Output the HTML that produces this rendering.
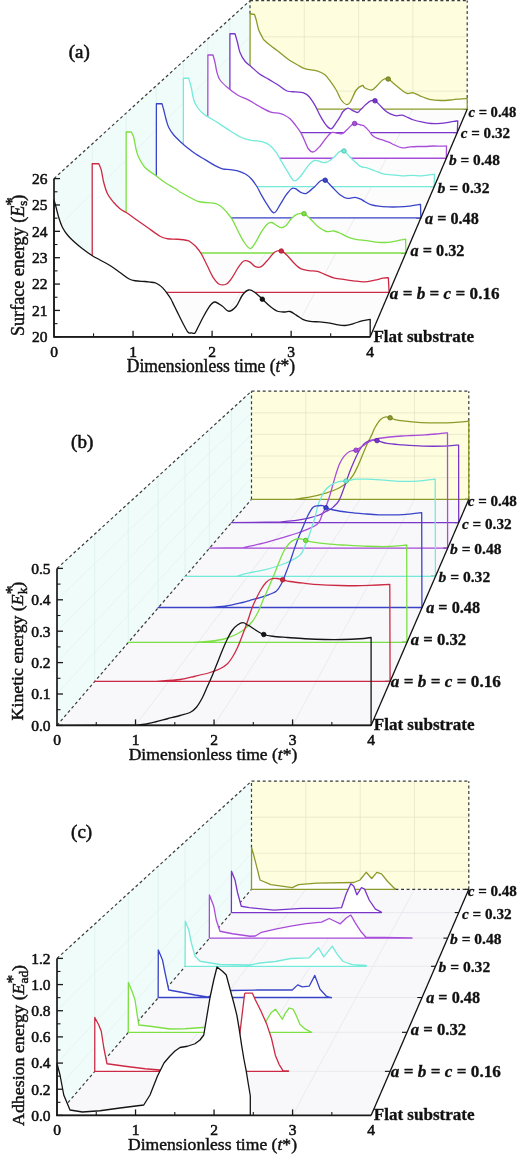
<!DOCTYPE html>
<html><head><meta charset="utf-8"><style>
html,body{margin:0;padding:0;background:#fff;}
svg{display:block;}
.tl{font-family:"Liberation Serif",serif;font-size:15.5px;fill:#111;stroke:#111;stroke-width:0.55px;}
.ti{font-family:"Liberation Serif",serif;font-size:18.5px;fill:#111;stroke:#111;stroke-width:0.45px;}
.pl{font-family:"Liberation Serif",serif;font-size:19px;fill:#111;stroke:#111;stroke-width:0.55px;}
.lb{font-family:"Liberation Serif",serif;font-size:14.5px;font-weight:bold;fill:#111;stroke:#111;stroke-width:0.3px;}
</style></head><body>
<svg width="520" height="1156" viewBox="0 0 520 1156">
<rect width="520" height="1156" fill="#fff"/>
<g>
<polygon points="54,336.8 54,178.6 250,0.6 250,109.2" fill="#f0fcfa"/>
<polygon points="250,109.2 250,0.6 467.2,0.6 467.2,109.2" fill="#fefedf"/>
<polygon points="54,336.8 370.2,336.8 467.2,109.2 250,109.2" fill="#fcfcfd"/>
<line x1="92.27" y1="292.34" x2="92.27" y2="143.83" stroke="#d8eeec" stroke-width="0.7"/>
<line x1="126.13" y1="253.01" x2="126.13" y2="113.07" stroke="#d8eeec" stroke-width="0.7"/>
<line x1="156.3" y1="217.97" x2="156.3" y2="85.66" stroke="#d8eeec" stroke-width="0.7"/>
<line x1="183.36" y1="186.55" x2="183.36" y2="61.1" stroke="#d8eeec" stroke-width="0.7"/>
<line x1="207.75" y1="158.23" x2="207.75" y2="38.95" stroke="#d8eeec" stroke-width="0.7"/>
<line x1="229.87" y1="132.57" x2="229.87" y2="18.87" stroke="#d8eeec" stroke-width="0.7"/>
<line x1="54" y1="310.43" x2="250" y2="91.1" stroke="#e0eeee" stroke-width="0.6"/>
<line x1="250" y1="91.1" x2="467.2" y2="91.1" stroke="#e2e2c6" stroke-width="0.7"/>
<line x1="54" y1="231.33" x2="250" y2="36.8" stroke="#e0eeee" stroke-width="0.6"/>
<line x1="250" y1="36.8" x2="467.2" y2="36.8" stroke="#e2e2c6" stroke-width="0.7"/>
<line x1="304.3" y1="109.2" x2="304.3" y2="0.6" stroke="#e2e2c6" stroke-width="0.7"/>
<line x1="133.05" y1="336.8" x2="304.3" y2="109.2" stroke="#e0e0e8" stroke-width="0.6"/>
<line x1="358.6" y1="109.2" x2="358.6" y2="0.6" stroke="#e2e2c6" stroke-width="0.7"/>
<line x1="212.1" y1="336.8" x2="358.6" y2="109.2" stroke="#e0e0e8" stroke-width="0.6"/>
<line x1="412.9" y1="109.2" x2="412.9" y2="0.6" stroke="#e2e2c6" stroke-width="0.7"/>
<line x1="291.15" y1="336.8" x2="412.9" y2="109.2" stroke="#e0e0e8" stroke-width="0.6"/>
<line x1="92.27" y1="292.34" x2="389.14" y2="292.34" stroke="#e0e0e8" stroke-width="0.6"/>
<line x1="126.13" y1="253.01" x2="405.9" y2="253.01" stroke="#e0e0e8" stroke-width="0.6"/>
<line x1="156.3" y1="217.97" x2="420.83" y2="217.97" stroke="#e0e0e8" stroke-width="0.6"/>
<line x1="183.36" y1="186.55" x2="434.22" y2="186.55" stroke="#e0e0e8" stroke-width="0.6"/>
<line x1="207.75" y1="158.23" x2="446.29" y2="158.23" stroke="#e0e0e8" stroke-width="0.6"/>
<line x1="229.87" y1="132.57" x2="457.24" y2="132.57" stroke="#e0e0e8" stroke-width="0.6"/>
<line x1="54" y1="178.6" x2="250" y2="0.6" stroke="#3a3a3a" stroke-width="1.2" stroke-dasharray="3,2.6"/>
<line x1="250" y1="0.6" x2="467.2" y2="0.6" stroke="#3a3a3a" stroke-width="1.2" stroke-dasharray="3,2.6"/>
<line x1="250" y1="13.75" x2="250" y2="0.6" stroke="#3a3a3a" stroke-width="1.2" stroke-dasharray="3,2.6"/>
<line x1="467.2" y1="109.2" x2="467.2" y2="0.6" stroke="#3a3a3a" stroke-width="1.2" stroke-dasharray="3,2.6"/>
<line x1="54" y1="336.8" x2="250" y2="109.2" stroke="#3a3a3a" stroke-width="1.2" stroke-dasharray="3,2.6"/>
<line x1="389.14" y1="292.34" x2="383.94" y2="292.34" stroke="#111" stroke-width="1.1"/>
<line x1="405.9" y1="253.01" x2="401" y2="253.01" stroke="#111" stroke-width="1.1"/>
<line x1="420.83" y1="217.97" x2="416.2" y2="217.97" stroke="#111" stroke-width="1.1"/>
<line x1="434.22" y1="186.55" x2="429.83" y2="186.55" stroke="#111" stroke-width="1.1"/>
<line x1="446.29" y1="158.23" x2="442.12" y2="158.23" stroke="#111" stroke-width="1.1"/>
<line x1="457.24" y1="132.57" x2="453.26" y2="132.57" stroke="#111" stroke-width="1.1"/>
<line x1="467.2" y1="109.2" x2="463.4" y2="109.2" stroke="#111" stroke-width="1.1"/>
<path d="M250,109.2 L250.1,13.75 L254.5,14.5 C254.79,15.42 255.54,17.42 256.25,20 C256.96,22.58 257.71,27.08 258.75,30 C259.79,32.92 261.62,35.83 262.5,37.5 C263.38,39.17 262.62,38.62 264,40 C265.38,41.38 268.38,43.88 270.8,45.8 C273.22,47.72 275.62,49.27 278.5,51.5 C281.38,53.73 284.9,56.95 288.1,59.2 C291.3,61.45 294.82,63.4 297.7,65 C300.58,66.6 302.2,67.83 305.4,68.8 C308.6,69.77 313.7,69.83 316.9,70.8 C320.1,71.77 322.35,72.85 324.6,74.6 C326.85,76.35 328.47,78.73 330.4,81.3 C332.33,83.87 334.39,86.88 336.2,90 C338.01,93.12 339.57,97.58 341.25,100 C342.93,102.42 344.79,104.08 346.25,104.5 C347.71,104.92 348.33,104.92 350,102.5 C351.67,100.08 354.17,92.83 356.25,90 C358.33,87.17 361.11,85.87 362.5,85.5 C363.89,85.13 363.1,87.05 364.6,87.8 C366.1,88.55 369.38,90.38 371.5,90 C373.62,89.62 375.38,87.22 377.3,85.5 C379.22,83.78 381.18,80.78 383,79.7 C384.82,78.62 386.27,78.23 388.2,79 C390.13,79.77 392.37,82.47 394.6,84.3 C396.83,86.13 399.48,88.47 401.6,90 C403.72,91.53 405.38,93.03 407.3,93.5 C409.22,93.97 410.98,92.42 413.1,92.8 C415.22,93.18 417.3,94.72 420,95.8 C422.7,96.88 425.83,98.52 429.3,99.3 C432.77,100.08 436.95,100.42 440.8,100.5 C444.65,100.58 448.93,100.08 452.4,99.8 C455.87,99.52 459.13,99 461.6,98.8 C464.07,98.6 466.27,98.63 467.2,98.6 L467.2,109.2 Z" fill="#ffffff" stroke="#8c9a2a" stroke-width="1.3" stroke-linejoin="round"/>
<path d="M229.87,132.57 L229.9,33.75 L235,33.75 C235.42,35.21 236.67,39.38 237.5,42.5 C238.33,45.62 238.75,49.38 240,52.5 C241.25,55.62 243.08,58.85 245,61.25 C246.92,63.65 249.13,64.83 251.5,66.9 C253.87,68.98 256.32,71.62 259.2,73.7 C262.08,75.78 265.58,77.48 268.8,79.4 C272.02,81.32 275.45,83.27 278.5,85.2 C281.55,87.13 284.22,89.88 287.1,91 C289.98,92.12 293.07,91.58 295.8,91.9 C298.53,92.22 301.27,92.1 303.5,92.9 C305.73,93.7 307.28,94.62 309.2,96.7 C311.12,98.78 313.07,102.03 315,105.4 C316.93,108.77 318.88,113.53 320.8,116.9 C322.72,120.27 324.75,123.62 326.5,125.6 C328.25,127.58 329.68,129.28 331.3,128.8 C332.92,128.32 334.75,124.68 336.2,122.7 C337.65,120.72 338.87,118.77 340,116.9 C341.13,115.03 341.68,112.97 343,111.5 C344.32,110.03 346.28,108.25 347.9,108.1 C349.52,107.95 351.1,109.87 352.7,110.6 C354.3,111.33 356.28,112.53 357.5,112.5 C358.72,112.47 358.62,111.72 360,110.4 C361.38,109.08 364.03,106.2 365.8,104.6 C367.57,103 369.07,101.43 370.6,100.8 C372.13,100.17 373.57,100.17 375,100.8 C376.43,101.43 377.53,103 379.2,104.6 C380.87,106.2 383.07,108.8 385,110.4 C386.93,112 388.88,113.3 390.8,114.2 C392.72,115.1 394.58,115.63 396.5,115.8 C398.42,115.97 400.37,114.88 402.3,115.2 C404.23,115.52 406.18,116.9 408.1,117.7 C410.02,118.5 411.57,119.3 413.8,120 C416.03,120.7 418.6,121.32 421.5,121.9 C424.4,122.48 427.98,123.27 431.2,123.5 C434.42,123.73 437.92,123.5 440.8,123.3 C443.68,123.1 445.93,122.68 448.5,122.3 C451.07,121.92 454.65,121.25 456.2,121 C457.75,120.75 457.53,120.83 457.8,120.8 L457.24,132.57 Z" fill="#ffffff" stroke="#7a36c8" stroke-width="1.3" stroke-linejoin="round"/>
<path d="M207.75,158.23 L207.9,55 L213,55 C213.33,56.25 214.33,59.58 215,62.5 C215.67,65.42 216.17,69.58 217,72.5 C217.83,75.42 218.25,77.5 220,80 C221.75,82.5 224.58,85 227.5,87.5 C230.42,90 234.13,92.98 237.5,95 C240.87,97.02 244.08,97.72 247.7,99.6 C251.32,101.48 255.35,104.22 259.2,106.3 C263.05,108.38 267.58,110.97 270.8,112.1 C274.02,113.23 276.27,112.62 278.5,113.1 C280.73,113.58 282.28,114.05 284.2,115 C286.12,115.95 288.07,117.03 290,118.8 C291.93,120.57 294.03,123.35 295.8,125.6 C297.57,127.85 299.32,130.22 300.6,132.3 C301.88,134.38 302.18,135.32 303.5,138.1 C304.82,140.88 306.87,146.7 308.5,149 C310.13,151.3 311.38,152.37 313.3,151.9 C315.22,151.43 317.92,148.43 320,146.2 C322.08,143.97 323.88,140.75 325.8,138.5 C327.72,136.25 329.75,133.6 331.5,132.7 C333.25,131.8 334.53,132.93 336.3,133.1 C338.07,133.27 340.33,134.25 342.1,133.7 C343.87,133.15 345.3,131.25 346.9,129.8 C348.5,128.35 350.42,126.05 351.7,125 C352.98,123.95 353.15,123.5 354.6,123.5 C356.05,123.5 358.87,124.62 360.4,125 C361.93,125.38 362.42,124.87 363.8,125.8 C365.18,126.73 367.25,129 368.7,130.6 C370.15,132.2 371.07,134.12 372.5,135.4 C373.93,136.68 375.53,137.5 377.3,138.3 C379.07,139.1 381.18,139.57 383.1,140.2 C385.02,140.83 386.88,141.3 388.8,142.1 C390.72,142.9 392.35,144.03 394.6,145 C396.85,145.97 399.73,147.58 402.3,147.9 C404.87,148.22 407.43,147.13 410,146.9 C412.57,146.67 415.13,146.57 417.7,146.5 C420.27,146.43 422.83,146.58 425.4,146.5 C427.97,146.42 430.53,146.05 433.1,146 C435.67,145.95 438.57,146.2 440.8,146.2 C443.03,146.2 445.55,146.03 446.5,146 L446.29,158.23 Z" fill="#ffffff" stroke="#a84cda" stroke-width="1.3" stroke-linejoin="round"/>
<path d="M183.36,186.55 L183.4,78.25 L188.75,78.25 C189.17,79.79 190.42,83.88 191.25,87.5 C192.08,91.12 192.71,96.67 193.75,100 C194.79,103.33 195.96,105.25 197.5,107.5 C199.04,109.75 201.12,111.87 203,113.5 C204.88,115.13 206.22,115.7 208.8,117.3 C211.38,118.9 214.97,120.85 218.5,123.1 C222.03,125.35 226.17,128.4 230,130.8 C233.83,133.2 237.97,135.9 241.5,137.5 C245.03,139.1 247.98,139.77 251.2,140.4 C254.42,141.03 258.25,140.82 260.8,141.3 C263.35,141.78 264.97,142.6 266.5,143.3 C268.03,144 268.45,144.07 270,145.5 C271.55,146.93 273.88,149.23 275.8,151.9 C277.72,154.57 279.58,158.28 281.5,161.5 C283.42,164.72 285.22,167.98 287.3,171.2 C289.38,174.42 291.75,180 294,180.8 C296.25,181.6 298.38,178.57 300.8,176 C303.22,173.43 306.27,167.97 308.5,165.4 C310.73,162.83 312.28,161.25 314.2,160.6 C316.12,159.95 318.07,161.18 320,161.5 C321.93,161.82 323.55,163.13 325.8,162.5 C328.05,161.87 331.27,159.47 333.5,157.7 C335.73,155.93 337.45,153.02 339.2,151.9 C340.95,150.78 342.4,150.35 344,151 C345.6,151.65 347.03,154.05 348.8,155.8 C350.57,157.55 352.67,159.75 354.6,161.5 C356.53,163.25 358.22,165.2 360.4,166.3 C362.58,167.4 365.2,167.32 367.7,168.1 C370.2,168.88 372.83,170.05 375.4,171 C377.97,171.95 380.22,173.17 383.1,173.8 C385.98,174.43 389.5,174.47 392.7,174.8 C395.9,175.13 399.1,175.7 402.3,175.8 C405.5,175.9 408.7,175.4 411.9,175.4 C415.1,175.4 418.62,175.9 421.5,175.8 C424.38,175.7 427.05,175.07 429.2,174.8 C431.35,174.53 433.53,174.3 434.4,174.2 L434.22,186.55 Z" fill="#ffffff" stroke="#74eada" stroke-width="1.3" stroke-linejoin="round"/>
<path d="M156.3,217.97 L156.4,103.75 L162,103.75 C162.29,104.79 163.04,107.29 163.75,110 C164.46,112.71 165.42,117.08 166.25,120 C167.08,122.92 167.5,125 168.75,127.5 C170,130 171.67,132.5 173.75,135 C175.83,137.5 178.93,140.32 181.25,142.5 C183.57,144.68 185.34,146.22 187.7,148.1 C190.06,149.98 192.52,151.88 195.4,153.8 C198.28,155.72 201.8,157.67 205,159.6 C208.2,161.53 211.72,163.87 214.6,165.4 C217.48,166.93 219.73,168.1 222.3,168.8 C224.87,169.5 227.43,169.27 230,169.6 C232.57,169.93 235.13,170.07 237.7,170.8 C240.27,171.53 243.15,172.67 245.4,174 C247.65,175.33 249.28,176.72 251.2,178.8 C253.12,180.88 255.23,183.87 256.9,186.5 C258.57,189.13 259.53,191.65 261.2,194.6 C262.87,197.55 264.77,201.15 266.9,204.2 C269.03,207.25 271.75,212.9 274,212.9 C276.25,212.9 278.43,207.12 280.4,204.2 C282.37,201.28 283.95,197.98 285.8,195.4 C287.65,192.82 289.9,189.82 291.5,188.7 C293.1,187.58 293.85,188.1 295.4,188.7 C296.95,189.3 298.95,191.53 300.8,192.3 C302.65,193.07 304.2,194.23 306.5,193.3 C308.8,192.37 312.28,188.75 314.6,186.7 C316.92,184.65 318.63,182.08 320.4,181 C322.17,179.92 323.28,179.25 325.2,180.2 C327.12,181.15 329.5,184.33 331.9,186.7 C334.3,189.07 337.03,192.47 339.6,194.4 C342.17,196.33 344.73,197.82 347.3,198.3 C349.87,198.78 352.75,197.15 355,197.3 C357.25,197.45 359.2,198.5 360.8,199.2 C362.4,199.9 362.93,200.6 364.6,201.5 C366.27,202.4 368.48,203.82 370.8,204.6 C373.12,205.38 375.68,205.82 378.5,206.2 C381.32,206.58 384.37,206.78 387.7,206.9 C391.03,207.02 394.92,207.02 398.5,206.9 C402.08,206.78 406.38,206.5 409.2,206.2 C412.02,205.9 413.52,205.42 415.4,205.1 C417.28,204.78 419.65,204.43 420.5,204.3 L420.83,217.97 Z" fill="#ffffff" stroke="#3a44c8" stroke-width="1.3" stroke-linejoin="round"/>
<path d="M126.13,253.01 L126.2,132 L131.25,132 C131.67,132.92 132.92,134.5 133.75,137.5 C134.58,140.5 135.42,146.67 136.25,150 C137.08,153.33 137.29,154.58 138.75,157.5 C140.21,160.42 142.29,164.58 145,167.5 C147.71,170.42 151.67,172.5 155,175 C158.33,177.5 161.25,180 165,182.5 C168.75,185 175,188.42 177.5,190 C180,191.58 177.92,190.75 180,192 C182.08,193.25 187.05,195.95 190,197.5 C192.95,199.05 194.82,200.43 197.7,201.3 C200.58,202.17 204.42,202.37 207.3,202.7 C210.18,203.03 212.75,202.72 215,203.3 C217.25,203.88 218.88,204.77 220.8,206.2 C222.72,207.63 224.58,209.67 226.5,211.9 C228.42,214.13 230.37,216.38 232.3,219.6 C234.23,222.82 236.18,227.52 238.1,231.2 C240.02,234.88 241.82,238.82 243.8,241.7 C245.78,244.58 248.07,248.33 250,248.5 C251.93,248.67 253.53,245.43 255.4,242.7 C257.27,239.97 259.28,235.15 261.2,232.1 C263.12,229.05 265.15,226 266.9,224.4 C268.65,222.8 270.1,222.33 271.7,222.5 C273.3,222.67 274.9,224.53 276.5,225.4 C278.1,226.27 279.68,227.7 281.3,227.7 C282.92,227.7 284.5,226.93 286.2,225.4 C287.9,223.87 289.65,220.37 291.5,218.5 C293.35,216.63 295.22,215 297.3,214.2 C299.38,213.4 301.75,212.83 304,213.7 C306.25,214.57 308.38,217.17 310.8,219.4 C313.22,221.63 315.93,225.08 318.5,227.1 C321.07,229.12 323.65,230.85 326.2,231.5 C328.75,232.15 331.25,230.62 333.8,231 C336.35,231.38 338.93,232.68 341.5,233.8 C344.07,234.92 346.63,236.73 349.2,237.7 C351.77,238.67 354.02,239.12 356.9,239.6 C359.78,240.08 362.9,240.15 366.5,240.6 C370.1,241.05 374.97,242.02 378.5,242.3 C382.03,242.58 384.63,242.55 387.7,242.3 C390.77,242.05 393.92,241.32 396.9,240.8 C399.88,240.28 404.15,239.47 405.6,239.2 L405.9,253.01 Z" fill="#ffffff" stroke="#7ce044" stroke-width="1.3" stroke-linejoin="round"/>
<path d="M92.27,292.34 L92.2,163.75 L98.75,163.75 C99.17,164.79 100.42,166.88 101.25,170 C102.08,173.12 102.71,178.54 103.75,182.5 C104.79,186.46 105.83,190.42 107.5,193.75 C109.17,197.08 111.67,200 113.75,202.5 C115.83,205 117.92,207.08 120,208.75 C122.08,210.42 123.75,210.83 126.25,212.5 C128.75,214.17 131.46,216.25 135,218.75 C138.54,221.25 143.33,224.58 147.5,227.5 C151.67,230.42 156.67,234.38 160,236.25 C163.33,238.12 164.58,238.25 167.5,238.75 C170.42,239.25 174.17,238.96 177.5,239.25 C180.83,239.54 185.42,240.09 187.5,240.5 C189.58,240.91 188.62,240.7 190,241.7 C191.38,242.7 193.88,244.42 195.8,246.5 C197.72,248.58 199.58,250.98 201.5,254.2 C203.42,257.42 205.37,261.95 207.3,265.8 C209.23,269.65 211.18,274.27 213.1,277.3 C215.02,280.33 216.57,282.88 218.8,284 C221.03,285.12 224.25,285.12 226.5,284 C228.75,282.88 230.37,280.02 232.3,277.3 C234.23,274.58 236.18,270.42 238.1,267.7 C240.02,264.98 241.88,261.97 243.8,261 C245.72,260.03 247.67,260.95 249.6,261.9 C251.53,262.85 253.47,265.9 255.4,266.7 C257.33,267.5 259.28,267.65 261.2,266.7 C263.12,265.75 264.67,263.4 266.9,261 C269.13,258.6 272.2,253.97 274.6,252.3 C277,250.63 279.12,250.38 281.3,251 C283.48,251.62 285.55,253.95 287.7,256 C289.85,258.05 292.05,261.2 294.2,263.3 C296.35,265.4 298.13,267.37 300.6,268.6 C303.07,269.83 306.18,270.25 309,270.7 C311.82,271.15 314.67,270.6 317.5,271.3 C320.33,272 323.18,273.77 326,274.9 C328.82,276.03 331.23,277.32 334.4,278.1 C337.57,278.88 341.82,279.15 345,279.6 C348.18,280.05 350.33,280.42 353.5,280.8 C356.67,281.18 360.48,282 364,281.9 C367.52,281.8 371.43,280.83 374.6,280.2 C377.77,279.57 380.72,278.52 383,278.1 C385.28,277.68 387.42,277.77 388.3,277.7 L389.14,292.34 Z" fill="#ffffff" stroke="#cc2a44" stroke-width="1.3" stroke-linejoin="round"/>
<path d="M54,336.8 L54,200 L55.5,205 C56.04,207.08 57.58,213.75 58.75,217.5 C59.92,221.25 61.04,224.58 62.5,227.5 C63.96,230.42 65.42,232.5 67.5,235 C69.58,237.5 72.5,240.21 75,242.5 C77.5,244.79 79.67,246.58 82.5,248.75 C85.33,250.92 89.08,253.62 92,255.5 C94.92,257.38 97,258.33 100,260 C103,261.67 106.67,263.42 110,265.5 C113.33,267.58 116.88,270.29 120,272.5 C123.12,274.71 126.25,277.38 128.75,278.75 C131.25,280.12 132.29,280.29 135,280.75 C137.71,281.21 142.5,281.27 145,281.5 C147.5,281.73 148.4,281.9 150,282.1 C151.6,282.3 153.07,282.22 154.6,282.7 C156.13,283.18 157.85,284.13 159.2,285 C160.55,285.87 161.35,286.47 162.7,287.9 C164.05,289.33 165.95,291.78 167.3,293.6 C168.65,295.42 169.65,296.77 170.8,298.8 C171.95,300.83 172.87,303.1 174.2,305.8 C175.53,308.5 177.27,311.93 178.8,315 C180.33,318.07 181.85,321.32 183.4,324.2 C184.95,327.08 186.75,330.85 188.1,332.3 C189.45,333.75 190.35,332.8 191.5,332.9 C192.65,333 193.85,333.97 195,332.9 C196.15,331.83 197.05,329.1 198.4,326.5 C199.75,323.9 201.55,320.18 203.1,317.3 C204.65,314.42 206.38,311.33 207.7,309.2 C209.02,307.07 209.78,305.7 211,304.5 C212.22,303.3 213.08,301.71 215,302 C216.92,302.29 220.21,304.71 222.5,306.25 C224.79,307.79 226.46,311.25 228.75,311.25 C231.04,311.25 233.96,308.96 236.25,306.25 C238.54,303.54 240.42,297.71 242.5,295 C244.58,292.29 246.67,290.42 248.75,290 C250.83,289.58 252.71,290.96 255,292.5 C257.29,294.04 260,296.96 262.5,299.25 C265,301.54 267.5,304.25 270,306.25 C272.5,308.25 275,310.29 277.5,311.25 C280,312.21 282.92,311.96 285,312 C287.08,312.04 288.12,310.98 290,311.5 C291.88,312.02 294.18,313.8 296.3,315.1 C298.42,316.4 300.4,318.25 302.7,319.3 C305,320.35 307.28,320.97 310.1,321.4 C312.92,321.83 316.6,321.65 319.6,321.9 C322.6,322.15 325.28,322.45 328.1,322.9 C330.92,323.35 333.68,324.17 336.5,324.6 C339.32,325.03 342.17,325.67 345,325.5 C347.83,325.33 350.68,324.38 353.5,323.6 C356.32,322.82 359.12,321.52 361.9,320.8 C364.68,320.08 368.82,319.55 370.2,319.3 L370.2,336.8 Z" fill="#ffffff" stroke="#141414" stroke-width="1.3" stroke-linejoin="round"/>
<circle cx="388.2" cy="79" r="2.3" fill="#8c9a2a" stroke="#5a6a10" stroke-width="0.7"/>
<circle cx="375" cy="100.8" r="2.3" fill="#7a36c8" stroke="#4a1a98" stroke-width="0.7"/>
<circle cx="354.6" cy="123.5" r="2.3" fill="#a84cda" stroke="#7a2aa8" stroke-width="0.7"/>
<circle cx="344" cy="151" r="2.3" fill="#74eada" stroke="#40b8a8" stroke-width="0.7"/>
<circle cx="325.2" cy="180.2" r="2.3" fill="#3a44c8" stroke="#1a2298" stroke-width="0.7"/>
<circle cx="304" cy="213.7" r="2.3" fill="#7ce044" stroke="#50b020" stroke-width="0.7"/>
<circle cx="281.3" cy="251" r="2.3" fill="#cc2a44" stroke="#a01020" stroke-width="0.7"/>
<circle cx="262.3" cy="299.2" r="2.3" fill="#141414" stroke="#000" stroke-width="0.7"/>
<line x1="370.2" y1="336.8" x2="467.2" y2="109.2" stroke="#111" stroke-width="1.3"/>
<path d="M54,178.6 L54,336.8 L370.2,336.8" fill="none" stroke="#1a1a1a" stroke-width="1.7"/>
<line x1="54" y1="336.8" x2="60" y2="336.8" stroke="#1a1a1a" stroke-width="1.3"/>
<text x="47.5" y="342.1" class="tl" text-anchor="end">20</text>
<line x1="54" y1="310.43" x2="60" y2="310.43" stroke="#1a1a1a" stroke-width="1.3"/>
<text x="47.5" y="315.73" class="tl" text-anchor="end">21</text>
<line x1="54" y1="284.07" x2="60" y2="284.07" stroke="#1a1a1a" stroke-width="1.3"/>
<text x="47.5" y="289.37" class="tl" text-anchor="end">22</text>
<line x1="54" y1="257.7" x2="60" y2="257.7" stroke="#1a1a1a" stroke-width="1.3"/>
<text x="47.5" y="263" class="tl" text-anchor="end">23</text>
<line x1="54" y1="231.33" x2="60" y2="231.33" stroke="#1a1a1a" stroke-width="1.3"/>
<text x="47.5" y="236.63" class="tl" text-anchor="end">24</text>
<line x1="54" y1="204.97" x2="60" y2="204.97" stroke="#1a1a1a" stroke-width="1.3"/>
<text x="47.5" y="210.27" class="tl" text-anchor="end">25</text>
<line x1="54" y1="178.6" x2="60" y2="178.6" stroke="#1a1a1a" stroke-width="1.3"/>
<text x="47.5" y="183.9" class="tl" text-anchor="end">26</text>
<line x1="54" y1="323.62" x2="57.5" y2="323.62" stroke="#1a1a1a" stroke-width="1.1"/>
<line x1="54" y1="297.25" x2="57.5" y2="297.25" stroke="#1a1a1a" stroke-width="1.1"/>
<line x1="54" y1="270.88" x2="57.5" y2="270.88" stroke="#1a1a1a" stroke-width="1.1"/>
<line x1="54" y1="244.52" x2="57.5" y2="244.52" stroke="#1a1a1a" stroke-width="1.1"/>
<line x1="54" y1="218.15" x2="57.5" y2="218.15" stroke="#1a1a1a" stroke-width="1.1"/>
<line x1="54" y1="191.78" x2="57.5" y2="191.78" stroke="#1a1a1a" stroke-width="1.1"/>
<text x="54" y="356.6" class="tl" text-anchor="middle">0</text>
<line x1="133.05" y1="336.8" x2="133.05" y2="330.8" stroke="#1a1a1a" stroke-width="1.3"/>
<text x="133.05" y="356.6" class="tl" text-anchor="middle">1</text>
<line x1="212.1" y1="336.8" x2="212.1" y2="330.8" stroke="#1a1a1a" stroke-width="1.3"/>
<text x="212.1" y="356.6" class="tl" text-anchor="middle">2</text>
<line x1="291.15" y1="336.8" x2="291.15" y2="330.8" stroke="#1a1a1a" stroke-width="1.3"/>
<text x="291.15" y="356.6" class="tl" text-anchor="middle">3</text>
<text x="370.2" y="356.6" class="tl" text-anchor="middle">4</text>
<line x1="93.53" y1="336.8" x2="93.53" y2="333.3" stroke="#1a1a1a" stroke-width="1.1"/>
<line x1="172.57" y1="336.8" x2="172.57" y2="333.3" stroke="#1a1a1a" stroke-width="1.1"/>
<line x1="251.62" y1="336.8" x2="251.62" y2="333.3" stroke="#1a1a1a" stroke-width="1.1"/>
<line x1="330.68" y1="336.8" x2="330.68" y2="333.3" stroke="#1a1a1a" stroke-width="1.1"/>
<text x="373.4" y="341.6" class="lb" style="font-size:16.3px" textLength="100.6" lengthAdjust="spacingAndGlyphs">Flat substrate</text>
<text x="389.8" y="299" class="lb" style="font-size:16.3px" textLength="109.8" lengthAdjust="spacingAndGlyphs"><tspan font-style="italic">a</tspan> = <tspan font-style="italic">b</tspan> = <tspan font-style="italic">c</tspan> = 0.16</text>
<text x="410.5" y="256.25" class="lb" style="font-size:16px" textLength="54" lengthAdjust="spacingAndGlyphs"><tspan font-style="italic">a</tspan> = 0.32</text>
<text x="425" y="223.75" class="lb" style="font-size:16px" textLength="53.75" lengthAdjust="spacingAndGlyphs"><tspan font-style="italic">a</tspan> = 0.48</text>
<text x="437.5" y="192.5" class="lb" style="font-size:15.6px" textLength="52" lengthAdjust="spacingAndGlyphs"><tspan font-style="italic">b</tspan> = 0.32</text>
<text x="449" y="165.4" class="lb" style="font-size:15.3px" textLength="51" lengthAdjust="spacingAndGlyphs"><tspan font-style="italic">b</tspan> = 0.48</text>
<text x="460.8" y="137.7" class="lb" style="font-size:15px" textLength="49.2" lengthAdjust="spacingAndGlyphs"><tspan font-style="italic">c</tspan> = 0.32</text>
<text x="468.5" y="117.2" class="lb" style="font-size:14.6px" textLength="47.7" lengthAdjust="spacingAndGlyphs"><tspan font-style="italic">c</tspan> = 0.48</text>
<text x="68.8" y="57.5" class="pl">(a)</text>
<text x="126.8" y="371.5" class="ti" style="font-size:18.5px" textLength="168.2" lengthAdjust="spacingAndGlyphs">Dimensionless time (<tspan font-style="italic">t</tspan>*)</text>
<text transform="translate(23.5,336) rotate(-90)" x="0" y="0" class="ti" style="font-size:18.2px" textLength="141.4" lengthAdjust="spacingAndGlyphs">Surface energy (<tspan font-style="italic">E</tspan><tspan font-size="17" dy="-6.5">*</tspan><tspan font-size="13" dx="-8.5" dy="10">s</tspan><tspan dy="-3.5">)</tspan></text>
</g>
<g>
<polygon points="57,725.4 57,568.4 251.5,391.2 251.5,499.3" fill="#f0fcfa"/>
<polygon points="251.5,499.3 251.5,391.2 468.8,391.2 468.8,499.3" fill="#fefedf"/>
<polygon points="57,725.4 371.1,725.4 468.8,499.3 251.5,499.3" fill="#f8f8fb"/>
<line x1="94.76" y1="681.34" x2="94.76" y2="533.87" stroke="#d8eeec" stroke-width="0.7"/>
<line x1="128.26" y1="642.32" x2="128.26" y2="503.28" stroke="#d8eeec" stroke-width="0.7"/>
<line x1="158.17" y1="607.52" x2="158.17" y2="476.01" stroke="#d8eeec" stroke-width="0.7"/>
<line x1="185.06" y1="576.3" x2="185.06" y2="451.54" stroke="#d8eeec" stroke-width="0.7"/>
<line x1="209.34" y1="548.12" x2="209.34" y2="429.46" stroke="#d8eeec" stroke-width="0.7"/>
<line x1="231.39" y1="522.58" x2="231.39" y2="409.44" stroke="#d8eeec" stroke-width="0.7"/>
<line x1="57" y1="694" x2="251.5" y2="477.68" stroke="#e0eeee" stroke-width="0.6"/>
<line x1="251.5" y1="477.68" x2="468.8" y2="477.68" stroke="#e2e2c6" stroke-width="0.7"/>
<line x1="57" y1="662.6" x2="251.5" y2="456.06" stroke="#e0eeee" stroke-width="0.6"/>
<line x1="251.5" y1="456.06" x2="468.8" y2="456.06" stroke="#e2e2c6" stroke-width="0.7"/>
<line x1="57" y1="631.2" x2="251.5" y2="434.44" stroke="#e0eeee" stroke-width="0.6"/>
<line x1="251.5" y1="434.44" x2="468.8" y2="434.44" stroke="#e2e2c6" stroke-width="0.7"/>
<line x1="57" y1="599.8" x2="251.5" y2="412.82" stroke="#e0eeee" stroke-width="0.6"/>
<line x1="251.5" y1="412.82" x2="468.8" y2="412.82" stroke="#e2e2c6" stroke-width="0.7"/>
<line x1="305.82" y1="499.3" x2="305.82" y2="391.2" stroke="#e2e2c6" stroke-width="0.7"/>
<line x1="135.52" y1="725.4" x2="305.82" y2="499.3" stroke="#e0e0e8" stroke-width="0.6"/>
<line x1="360.15" y1="499.3" x2="360.15" y2="391.2" stroke="#e2e2c6" stroke-width="0.7"/>
<line x1="214.05" y1="725.4" x2="360.15" y2="499.3" stroke="#e0e0e8" stroke-width="0.6"/>
<line x1="414.48" y1="499.3" x2="414.48" y2="391.2" stroke="#e2e2c6" stroke-width="0.7"/>
<line x1="292.58" y1="725.4" x2="414.48" y2="499.3" stroke="#e0e0e8" stroke-width="0.6"/>
<line x1="94.76" y1="681.34" x2="390.07" y2="681.34" stroke="#e0e0e8" stroke-width="0.6"/>
<line x1="128.26" y1="642.32" x2="406.89" y2="642.32" stroke="#e0e0e8" stroke-width="0.6"/>
<line x1="158.17" y1="607.52" x2="421.92" y2="607.52" stroke="#e0e0e8" stroke-width="0.6"/>
<line x1="185.06" y1="576.3" x2="435.42" y2="576.3" stroke="#e0e0e8" stroke-width="0.6"/>
<line x1="209.34" y1="548.12" x2="447.62" y2="548.12" stroke="#e0e0e8" stroke-width="0.6"/>
<line x1="231.39" y1="522.58" x2="458.7" y2="522.58" stroke="#e0e0e8" stroke-width="0.6"/>
<line x1="57" y1="568.4" x2="251.5" y2="391.2" stroke="#3a3a3a" stroke-width="1.2" stroke-dasharray="3,2.6"/>
<line x1="251.5" y1="391.2" x2="468.8" y2="391.2" stroke="#3a3a3a" stroke-width="1.2" stroke-dasharray="3,2.6"/>
<line x1="251.5" y1="499.4" x2="251.5" y2="391.2" stroke="#3a3a3a" stroke-width="1.2" stroke-dasharray="3,2.6"/>
<line x1="468.8" y1="499.3" x2="468.8" y2="391.2" stroke="#3a3a3a" stroke-width="1.2" stroke-dasharray="3,2.6"/>
<line x1="57" y1="725.4" x2="251.5" y2="499.3" stroke="#3a3a3a" stroke-width="1.2" stroke-dasharray="3,2.6"/>
<line x1="390.07" y1="681.34" x2="384.9" y2="681.34" stroke="#111" stroke-width="1.1"/>
<line x1="406.89" y1="642.32" x2="402.02" y2="642.32" stroke="#111" stroke-width="1.1"/>
<line x1="421.92" y1="607.52" x2="417.31" y2="607.52" stroke="#111" stroke-width="1.1"/>
<line x1="435.42" y1="576.3" x2="431.04" y2="576.3" stroke="#111" stroke-width="1.1"/>
<line x1="447.62" y1="548.12" x2="443.45" y2="548.12" stroke="#111" stroke-width="1.1"/>
<line x1="458.7" y1="522.58" x2="454.72" y2="522.58" stroke="#111" stroke-width="1.1"/>
<line x1="468.8" y1="499.3" x2="465" y2="499.3" stroke="#111" stroke-width="1.1"/>
<path d="M251.5,499.3 L251.5,499.4 L295,499.2 C297.57,498.82 305.27,497.92 310.4,496.9 C315.53,495.88 321.18,494.5 325.8,493.1 C330.42,491.7 334.52,490.3 338.1,488.5 C341.68,486.7 344.73,484.62 347.3,482.3 C349.87,479.98 351.7,477.42 353.5,474.6 C355.3,471.78 356.57,468.73 358.1,465.4 C359.63,462.07 361.17,458.2 362.7,454.6 C364.23,451 365.77,447.13 367.3,443.8 C368.83,440.47 370.62,437.32 371.9,434.6 C373.18,431.88 373.55,430.02 375,427.5 C376.45,424.98 378.78,421.27 380.6,419.5 C382.42,417.73 384.32,417.18 385.9,416.9 C387.48,416.62 388.17,417.27 390.1,417.8 C392.03,418.33 393.8,419.43 397.5,420.1 C401.2,420.77 407.02,421.35 412.3,421.8 C417.58,422.25 423.55,422.63 429.2,422.8 C434.85,422.97 441.25,422.9 446.2,422.8 C451.15,422.7 455.13,422.47 458.9,422.2 C462.67,421.93 467.15,421.37 468.8,421.2 L468.8,499.3 Z" fill="none" stroke="#8c9a2a" stroke-width="1.3" stroke-linejoin="round"/>
<path d="M231.39,522.58 L231.4,522.7 L280.8,521.9 C283.37,521.65 291.58,521.03 296.2,520.4 C300.82,519.77 304.67,519 308.5,518.1 C312.33,517.2 316.32,516.1 319.2,515 C322.08,513.9 324,512.42 325.8,511.5 C327.6,510.58 328.72,510.27 330,509.5 C331.28,508.73 332.03,508.35 333.5,506.9 C334.97,505.45 337.27,503.37 338.8,500.8 C340.33,498.23 341.42,494.83 342.7,491.5 C343.98,488.17 345.22,484.38 346.5,480.8 C347.78,477.22 348.98,473.6 350.4,470 C351.82,466.4 353.47,462.53 355,459.2 C356.53,455.87 358.07,452.57 359.6,450 C361.13,447.43 362.67,445.33 364.2,443.8 C365.73,442.27 367.5,441.4 368.8,440.8 C370.1,440.2 370.63,440.23 372,440.2 C373.37,440.17 374.52,440.07 377,440.6 C379.48,441.13 382.78,442.7 386.9,443.4 C391.02,444.1 395.7,444.35 401.7,444.8 C407.7,445.25 415.85,445.88 422.9,446.1 C429.95,446.32 438.37,446.27 444,446.1 C449.63,445.93 454.27,445.28 456.7,445.1 C459.13,444.92 458.28,445.02 458.6,445 L458.7,522.58 Z" fill="none" stroke="#7a36c8" stroke-width="1.3" stroke-linejoin="round"/>
<path d="M209.34,548.12 L209.3,548.2 L243.5,547.7 C244.58,547.45 246.35,547.03 250,546.2 C253.65,545.37 260.27,544.05 265.4,542.7 C270.53,541.35 275.67,539.63 280.8,538.1 C285.93,536.57 291.58,535.05 296.2,533.5 C300.82,531.95 305.17,530.22 308.5,528.8 C311.83,527.38 314.28,526.4 316.2,525 C318.12,523.6 318.98,522.2 320,520.4 C321.02,518.6 321.33,516.45 322.3,514.2 C323.27,511.95 324.58,509.9 325.8,506.9 C327.02,503.9 328.45,499.78 329.6,496.2 C330.75,492.62 331.67,489 332.7,485.4 C333.73,481.8 334.65,478.2 335.8,474.6 C336.95,471 338.2,466.87 339.6,463.8 C341,460.73 342.53,458.25 344.2,456.2 C345.87,454.15 347.67,452.53 349.6,451.5 C351.53,450.47 353.65,450.88 355.8,450 C357.95,449.12 360.13,447.7 362.5,446.25 C364.87,444.8 367.5,442.55 370,441.3 C372.5,440.05 374.17,439.47 377.5,438.75 C380.83,438.03 385.92,437.46 390,437 C394.08,436.54 398.28,436.25 402,436 C405.72,435.75 408.47,435.68 412.3,435.5 C416.13,435.32 420.77,435.18 425,434.9 C429.23,434.62 433.95,434.15 437.7,433.8 C441.45,433.45 445.87,432.97 447.5,432.8 L447.62,548.12 Z" fill="none" stroke="#a84cda" stroke-width="1.3" stroke-linejoin="round"/>
<path d="M185.06,576.3 L185,576.4 L237,576.2 C239.17,575.62 245.27,573.8 250,572.7 C254.73,571.6 260.27,570.88 265.4,569.6 C270.53,568.32 276.18,566.67 280.8,565 C285.42,563.33 289.77,561.4 293.1,559.6 C296.43,557.8 298.88,556.38 300.8,554.2 C302.72,552.02 303.32,549.32 304.6,546.5 C305.88,543.68 307.35,540.37 308.5,537.3 C309.65,534.23 310.48,531.18 311.5,528.1 C312.52,525.02 313.5,522.65 314.6,518.8 C315.7,514.95 317.03,508.47 318.1,505 C319.17,501.53 319.98,500.25 321,498 C322.02,495.75 322.63,493.6 324.2,491.5 C325.77,489.4 328.1,487.02 330.4,485.4 C332.7,483.78 335.4,482.53 338,481.8 C340.6,481.07 342.92,481.43 346,481 C349.08,480.57 352.95,479.5 356.5,479.2 C360.05,478.9 362.23,479 367.3,479.2 C372.37,479.4 380.82,480.03 386.9,480.4 C392.98,480.77 398.15,481.33 403.8,481.4 C409.45,481.47 415.85,481.15 420.8,480.8 C425.75,480.45 431.1,479.55 433.5,479.3 C435.9,479.05 434.92,479.3 435.2,479.3 L435.42,576.3 Z" fill="none" stroke="#74eada" stroke-width="1.3" stroke-linejoin="round"/>
<path d="M158.17,607.52 L158.1,607.6 L205,607.6 C208.33,607.38 218.75,607.1 225,606.25 C231.25,605.4 238.33,603.48 242.5,602.5 C246.67,601.52 246.18,601.52 250,600.4 C253.82,599.28 261.03,597.33 265.4,595.8 C269.77,594.27 273.52,593.25 276.2,591.2 C278.88,589.15 279.97,586.33 281.5,583.5 C283.03,580.67 283.98,577.8 285.4,574.2 C286.82,570.6 288.47,566.25 290,561.9 C291.53,557.55 293.07,552.45 294.6,548.1 C296.13,543.75 297.67,539.65 299.2,535.8 C300.73,531.95 302.25,528.6 303.8,525 C305.35,521.4 306.95,517.15 308.5,514.2 C310.05,511.25 311.57,508.7 313.1,507.3 C314.63,505.9 316.1,506.07 317.7,505.8 C319.3,505.53 321.32,505.37 322.7,505.7 C324.08,506.03 324.2,507.08 326,507.8 C327.8,508.52 329.7,509.25 333.5,510 C337.3,510.75 343.68,511.67 348.8,512.3 C353.92,512.93 359.2,513.38 364.2,513.8 C369.2,514.22 373.15,514.63 378.8,514.8 C384.45,514.97 392.65,514.97 398.1,514.8 C403.55,514.63 407.57,514.15 411.5,513.8 C415.43,513.45 420,512.88 421.7,512.7 L421.92,607.52 Z" fill="none" stroke="#3a44c8" stroke-width="1.3" stroke-linejoin="round"/>
<path d="M128.26,642.32 L128.2,642.3 L192.5,642.3 C195.42,642.12 204.58,641.84 210,641.25 C215.42,640.66 220.42,640 225,638.75 C229.58,637.5 234.17,635.42 237.5,633.75 C240.83,632.08 242.5,630.83 245,628.75 C247.5,626.67 250.25,624.21 252.5,621.25 C254.75,618.29 256.67,614.71 258.5,611 C260.33,607.29 261.92,602.67 263.5,599 C265.08,595.33 266.42,592.62 268,589 C269.58,585.38 271.25,581.55 273,577.3 C274.75,573.05 276.7,567.85 278.5,563.5 C280.3,559.15 282.02,554.53 283.8,551.2 C285.58,547.87 287.4,545.43 289.2,543.5 C291,541.57 292.67,540.38 294.6,539.6 C296.53,538.82 298.95,538.67 300.8,538.8 C302.65,538.93 303.92,539.88 305.7,540.4 C307.48,540.92 307.45,541.27 311.5,541.9 C315.55,542.53 324.83,543.68 330,544.2 C335.17,544.72 336.25,544.66 342.5,545 C348.75,545.34 359.83,546 367.5,546.25 C375.17,546.5 381.97,546.71 388.5,546.5 C395.03,546.29 403.67,545.25 406.7,545 L406.89,642.32 Z" fill="none" stroke="#7ce044" stroke-width="1.3" stroke-linejoin="round"/>
<path d="M94.76,681.34 L94.7,681.3 L157.5,681.25 C161.25,680.96 173.75,680.33 180,679.5 C186.25,678.67 190,677.42 195,676.25 C200,675.08 205.83,673.75 210,672.5 C214.17,671.25 217.08,670.21 220,668.75 C222.92,667.29 225.42,665.71 227.5,663.75 C229.58,661.79 230.83,659.71 232.5,657 C234.17,654.29 235.83,651.17 237.5,647.5 C239.17,643.83 240.83,639.33 242.5,635 C244.17,630.67 245.92,626 247.5,621.5 C249.08,617 250.58,611.75 252,608 C253.42,604.25 254.5,602.08 256,599 C257.5,595.92 259.33,592.25 261,589.5 C262.67,586.75 264.33,584.25 266,582.5 C267.67,580.75 269.17,579.67 271,579 C272.83,578.33 275.07,578.37 277,578.5 C278.93,578.63 280.43,579.3 282.6,579.8 C284.77,580.3 286.47,580.93 290,581.5 C293.53,582.07 298.93,582.67 303.8,583.2 C308.67,583.73 313.17,584.32 319.2,584.7 C325.23,585.08 334.03,585.33 340,585.5 C345.97,585.67 350.13,585.77 355,585.75 C359.87,585.73 363.4,585.62 369.2,585.4 C375,585.17 386.37,584.57 389.8,584.4 L390.07,681.34 Z" fill="none" stroke="#cc2a44" stroke-width="1.3" stroke-linejoin="round"/>
<path d="M57,725.4 L57,725.3 L137.5,725 C138.75,724.88 142.08,724.75 145,724.25 C147.92,723.75 151.25,722.92 155,722 C158.75,721.08 163.33,719.83 167.5,718.75 C171.67,717.67 176.25,716.54 180,715.5 C183.75,714.46 187.29,713.83 190,712.5 C192.71,711.17 194.17,710 196.25,707.5 C198.33,705 200.62,701.04 202.5,697.5 C204.38,693.96 205.83,690 207.5,686.25 C209.17,682.5 210.83,678.96 212.5,675 C214.17,671.04 215.83,666.67 217.5,662.5 C219.17,658.33 220.83,653.96 222.5,650 C224.17,646.04 225.83,642.08 227.5,638.75 C229.17,635.42 230.83,632.29 232.5,630 C234.17,627.71 235.75,626.22 237.5,625 C239.25,623.78 241.33,622.7 243,622.7 C244.67,622.7 246.33,624.41 247.5,625 C248.67,625.59 248.33,625.21 250,626.25 C251.67,627.29 255.21,629.88 257.5,631.25 C259.79,632.62 261.25,633.67 263.75,634.5 C266.25,635.33 268.54,635.75 272.5,636.25 C276.46,636.75 282.08,637.08 287.5,637.5 C292.92,637.92 298.75,638.42 305,638.75 C311.25,639.08 318.75,639.38 325,639.5 C331.25,639.62 336.67,639.62 342.5,639.5 C348.33,639.38 355.23,639.08 360,638.75 C364.77,638.42 369.25,637.71 371.1,637.5 L371.1,725.4 Z" fill="none" stroke="#141414" stroke-width="1.3" stroke-linejoin="round"/>
<circle cx="390.1" cy="417.8" r="2.3" fill="#8c9a2a" stroke="#5a6a10" stroke-width="0.7"/>
<circle cx="377" cy="440.6" r="2.3" fill="#7a36c8" stroke="#4a1a98" stroke-width="0.7"/>
<circle cx="356" cy="450.2" r="2.3" fill="#a84cda" stroke="#7a2aa8" stroke-width="0.7"/>
<circle cx="346" cy="481" r="2.3" fill="#74eada" stroke="#40b8a8" stroke-width="0.7"/>
<circle cx="326" cy="507.8" r="2.3" fill="#3a44c8" stroke="#1a2298" stroke-width="0.7"/>
<circle cx="305.7" cy="540.4" r="2.3" fill="#7ce044" stroke="#50b020" stroke-width="0.7"/>
<circle cx="282.6" cy="579.8" r="2.3" fill="#cc2a44" stroke="#a01020" stroke-width="0.7"/>
<circle cx="263.75" cy="634.5" r="2.3" fill="#141414" stroke="#000" stroke-width="0.7"/>
<line x1="371.1" y1="725.4" x2="468.8" y2="499.3" stroke="#111" stroke-width="1.3"/>
<path d="M57,568.4 L57,725.4 L371.1,725.4" fill="none" stroke="#1a1a1a" stroke-width="1.7"/>
<line x1="57" y1="725.4" x2="63" y2="725.4" stroke="#1a1a1a" stroke-width="1.3"/>
<text x="50.5" y="730.7" class="tl" text-anchor="end">0.0</text>
<line x1="57" y1="694" x2="63" y2="694" stroke="#1a1a1a" stroke-width="1.3"/>
<text x="50.5" y="699.3" class="tl" text-anchor="end">0.1</text>
<line x1="57" y1="662.6" x2="63" y2="662.6" stroke="#1a1a1a" stroke-width="1.3"/>
<text x="50.5" y="667.9" class="tl" text-anchor="end">0.2</text>
<line x1="57" y1="631.2" x2="63" y2="631.2" stroke="#1a1a1a" stroke-width="1.3"/>
<text x="50.5" y="636.5" class="tl" text-anchor="end">0.3</text>
<line x1="57" y1="599.8" x2="63" y2="599.8" stroke="#1a1a1a" stroke-width="1.3"/>
<text x="50.5" y="605.1" class="tl" text-anchor="end">0.4</text>
<line x1="57" y1="568.4" x2="63" y2="568.4" stroke="#1a1a1a" stroke-width="1.3"/>
<text x="50.5" y="573.7" class="tl" text-anchor="end">0.5</text>
<line x1="57" y1="709.7" x2="60.5" y2="709.7" stroke="#1a1a1a" stroke-width="1.1"/>
<line x1="57" y1="678.3" x2="60.5" y2="678.3" stroke="#1a1a1a" stroke-width="1.1"/>
<line x1="57" y1="646.9" x2="60.5" y2="646.9" stroke="#1a1a1a" stroke-width="1.1"/>
<line x1="57" y1="615.5" x2="60.5" y2="615.5" stroke="#1a1a1a" stroke-width="1.1"/>
<line x1="57" y1="584.1" x2="60.5" y2="584.1" stroke="#1a1a1a" stroke-width="1.1"/>
<text x="57" y="745.2" class="tl" text-anchor="middle">0</text>
<line x1="135.53" y1="725.4" x2="135.53" y2="719.4" stroke="#1a1a1a" stroke-width="1.3"/>
<text x="135.53" y="745.2" class="tl" text-anchor="middle">1</text>
<line x1="214.05" y1="725.4" x2="214.05" y2="719.4" stroke="#1a1a1a" stroke-width="1.3"/>
<text x="214.05" y="745.2" class="tl" text-anchor="middle">2</text>
<line x1="292.58" y1="725.4" x2="292.58" y2="719.4" stroke="#1a1a1a" stroke-width="1.3"/>
<text x="292.58" y="745.2" class="tl" text-anchor="middle">3</text>
<text x="371.1" y="745.2" class="tl" text-anchor="middle">4</text>
<line x1="96.26" y1="725.4" x2="96.26" y2="721.9" stroke="#1a1a1a" stroke-width="1.1"/>
<line x1="174.79" y1="725.4" x2="174.79" y2="721.9" stroke="#1a1a1a" stroke-width="1.1"/>
<line x1="253.31" y1="725.4" x2="253.31" y2="721.9" stroke="#1a1a1a" stroke-width="1.1"/>
<line x1="331.84" y1="725.4" x2="331.84" y2="721.9" stroke="#1a1a1a" stroke-width="1.1"/>
<text x="373.8" y="729.8" class="lb" style="font-size:16.3px" textLength="100.7" lengthAdjust="spacingAndGlyphs">Flat substrate</text>
<text x="390.8" y="687.1" class="lb" style="font-size:16.3px" textLength="110.1" lengthAdjust="spacingAndGlyphs"><tspan font-style="italic">a</tspan> = <tspan font-style="italic">b</tspan> = <tspan font-style="italic">c</tspan> = 0.16</text>
<text x="410.8" y="645.2" class="lb" style="font-size:16px" textLength="55.4" lengthAdjust="spacingAndGlyphs"><tspan font-style="italic">a</tspan> = 0.32</text>
<text x="426.2" y="612.5" class="lb" style="font-size:16px" textLength="53.8" lengthAdjust="spacingAndGlyphs"><tspan font-style="italic">a</tspan> = 0.48</text>
<text x="438.5" y="581.7" class="lb" style="font-size:15.6px" textLength="51.7" lengthAdjust="spacingAndGlyphs"><tspan font-style="italic">b</tspan> = 0.32</text>
<text x="450" y="553.8" class="lb" style="font-size:15.3px" textLength="51.5" lengthAdjust="spacingAndGlyphs"><tspan font-style="italic">b</tspan> = 0.48</text>
<text x="462" y="528.5" class="lb" style="font-size:15px" textLength="49.6" lengthAdjust="spacingAndGlyphs"><tspan font-style="italic">c</tspan> = 0.32</text>
<text x="467.7" y="506.4" class="lb" style="font-size:14.6px" textLength="49.2" lengthAdjust="spacingAndGlyphs"><tspan font-style="italic">c</tspan> = 0.48</text>
<text x="71.1" y="447.5" class="pl">(b)</text>
<text x="128.7" y="760.1" class="ti" style="font-size:17.5px" textLength="168.6" lengthAdjust="spacingAndGlyphs">Dimensionless time (<tspan font-style="italic">t</tspan>*)</text>
<text transform="translate(23.4,720.4) rotate(-90)" x="0" y="0" class="ti" style="font-size:17.5px" textLength="138.6" lengthAdjust="spacingAndGlyphs">Kinetic energy (<tspan font-style="italic">E</tspan><tspan font-size="17" dy="-6.5">*</tspan><tspan font-size="13" dx="-8.5" dy="10">k</tspan><tspan dy="-3.5">)</tspan></text>
</g>
<g>
<polygon points="57,1115.4 57,958.4 251.5,781.2 251.5,889.3" fill="#f0fcfa"/>
<polygon points="251.5,889.3 251.5,781.2 468.8,781.2 468.8,889.3" fill="#fefedf"/>
<polygon points="57,1115.4 371.1,1115.4 468.8,889.3 251.5,889.3" fill="#f8f8fb"/>
<line x1="94.76" y1="1071.34" x2="94.76" y2="923.87" stroke="#d8eeec" stroke-width="0.7"/>
<line x1="128.26" y1="1032.32" x2="128.26" y2="893.28" stroke="#d8eeec" stroke-width="0.7"/>
<line x1="158.17" y1="997.52" x2="158.17" y2="866.01" stroke="#d8eeec" stroke-width="0.7"/>
<line x1="185.06" y1="966.3" x2="185.06" y2="841.54" stroke="#d8eeec" stroke-width="0.7"/>
<line x1="209.34" y1="938.12" x2="209.34" y2="819.46" stroke="#d8eeec" stroke-width="0.7"/>
<line x1="231.39" y1="912.58" x2="231.39" y2="799.44" stroke="#d8eeec" stroke-width="0.7"/>
<line x1="57" y1="1089.23" x2="251.5" y2="871.28" stroke="#e0eeee" stroke-width="0.6"/>
<line x1="251.5" y1="871.28" x2="468.8" y2="871.28" stroke="#e2e2c6" stroke-width="0.7"/>
<line x1="57" y1="1063.07" x2="251.5" y2="853.27" stroke="#e0eeee" stroke-width="0.6"/>
<line x1="251.5" y1="853.27" x2="468.8" y2="853.27" stroke="#e2e2c6" stroke-width="0.7"/>
<line x1="57" y1="1010.73" x2="251.5" y2="817.23" stroke="#e0eeee" stroke-width="0.6"/>
<line x1="251.5" y1="817.23" x2="468.8" y2="817.23" stroke="#e2e2c6" stroke-width="0.7"/>
<line x1="305.82" y1="889.3" x2="305.82" y2="781.2" stroke="#e2e2c6" stroke-width="0.7"/>
<line x1="135.52" y1="1115.4" x2="305.82" y2="889.3" stroke="#e0e0e8" stroke-width="0.6"/>
<line x1="360.15" y1="889.3" x2="360.15" y2="781.2" stroke="#e2e2c6" stroke-width="0.7"/>
<line x1="214.05" y1="1115.4" x2="360.15" y2="889.3" stroke="#e0e0e8" stroke-width="0.6"/>
<line x1="414.48" y1="889.3" x2="414.48" y2="781.2" stroke="#e2e2c6" stroke-width="0.7"/>
<line x1="292.58" y1="1115.4" x2="414.48" y2="889.3" stroke="#e0e0e8" stroke-width="0.6"/>
<line x1="94.76" y1="1071.34" x2="390.07" y2="1071.34" stroke="#e0e0e8" stroke-width="0.6"/>
<line x1="128.26" y1="1032.32" x2="406.89" y2="1032.32" stroke="#e0e0e8" stroke-width="0.6"/>
<line x1="158.17" y1="997.52" x2="421.92" y2="997.52" stroke="#e0e0e8" stroke-width="0.6"/>
<line x1="185.06" y1="966.3" x2="435.42" y2="966.3" stroke="#e0e0e8" stroke-width="0.6"/>
<line x1="209.34" y1="938.12" x2="447.62" y2="938.12" stroke="#e0e0e8" stroke-width="0.6"/>
<line x1="231.39" y1="912.58" x2="458.7" y2="912.58" stroke="#e0e0e8" stroke-width="0.6"/>
<line x1="57" y1="958.4" x2="251.5" y2="781.2" stroke="#3a3a3a" stroke-width="1.2" stroke-dasharray="3,2.6"/>
<line x1="251.5" y1="781.2" x2="468.8" y2="781.2" stroke="#3a3a3a" stroke-width="1.2" stroke-dasharray="3,2.6"/>
<line x1="251.5" y1="847.7" x2="251.5" y2="781.2" stroke="#3a3a3a" stroke-width="1.2" stroke-dasharray="3,2.6"/>
<line x1="468.8" y1="889.3" x2="468.8" y2="781.2" stroke="#3a3a3a" stroke-width="1.2" stroke-dasharray="3,2.6"/>
<line x1="57" y1="1115.4" x2="251.5" y2="889.3" stroke="#3a3a3a" stroke-width="1.2" stroke-dasharray="3,2.6"/>
<line x1="395.4" y1="889.3" x2="468.8" y2="889.3" stroke="#3a3a3a" stroke-width="1.2" stroke-dasharray="3,2.6"/>
<line x1="390.07" y1="1071.34" x2="384.9" y2="1071.34" stroke="#111" stroke-width="1.1"/>
<line x1="406.89" y1="1032.32" x2="402.02" y2="1032.32" stroke="#111" stroke-width="1.1"/>
<line x1="421.92" y1="997.52" x2="417.31" y2="997.52" stroke="#111" stroke-width="1.1"/>
<line x1="435.42" y1="966.3" x2="431.04" y2="966.3" stroke="#111" stroke-width="1.1"/>
<line x1="447.62" y1="938.12" x2="443.45" y2="938.12" stroke="#111" stroke-width="1.1"/>
<line x1="458.7" y1="912.58" x2="454.72" y2="912.58" stroke="#111" stroke-width="1.1"/>
<line x1="468.8" y1="889.3" x2="465" y2="889.3" stroke="#111" stroke-width="1.1"/>
<polygon points="251.5,889.3 251.6,847.7 253.8,855.4 256.9,867.7 260,880 270.8,884.6 292.3,887.7 298.5,884.6 316.9,883.1 353.8,882.5 360,880 366.2,872.3 371.7,878.5 376.9,872.3 381.5,873.8 387.7,881.5 393.8,887.7 395.4,888.6 395.4,889.3" fill="#ffffff" stroke="#8c9a2a" stroke-width="1.3" stroke-linejoin="round"/>
<polygon points="231.39,912.58 231.5,871.25 235,880 237.5,892.5 241.25,906.25 249.2,907.7 273.8,910.2 301.5,908.3 332.3,908.3 341.5,907.7 346.2,893.8 350.8,883.7 353.8,886.2 356.9,894.8 361.5,887.7 364.6,889.2 369.2,900 375.4,909.2 380,911.4 381.5,912.3 381.5,912.58" fill="#ffffff" stroke="#7a36c8" stroke-width="1.3" stroke-linejoin="round"/>
<polygon points="209.34,938.12 209.4,895 213.75,906.25 216.25,920 220,931.25 232.5,933.75 250,936.25 255.4,936 261.5,932.3 275.4,929.2 290.8,926.2 306.2,923.7 321.5,922.2 329.2,918.5 335.4,921.5 340.3,923.8 346.2,918 350.8,915 355.4,923.1 361.5,932.3 366.2,937.5 383.1,937.5 412,937.8 412,938.12" fill="#ffffff" stroke="#a84cda" stroke-width="1.3" stroke-linejoin="round"/>
<polygon points="185.06,966.3 185.3,921.25 188.75,930 191.25,942.5 195,956.25 200,961.25 220,964.5 250,965 260,963 275.4,961.5 290.8,958.5 309.2,957.8 318.5,947.7 323.7,956.9 332.3,946.2 336.9,953.8 343.1,961.5 352.3,964.6 366.2,965.5 366.2,966.3" fill="#ffffff" stroke="#74eada" stroke-width="1.3" stroke-linejoin="round"/>
<polygon points="158.17,997.52 158.3,950 162.5,960 165,972.5 168.75,990 182.5,992.5 195,995 207.5,997 220,994 231.25,990.5 257.5,990 292.3,990 297.7,984.9 302.3,986.9 309.2,986.2 314.8,975.4 320,989.2 326.2,996 331.4,997.8 331.4,997.52" fill="#ffffff" stroke="#3a44c8" stroke-width="1.3" stroke-linejoin="round"/>
<polygon points="128.26,1032.32 128.4,982.5 132.5,992.5 135,1000 138.75,1025 150,1026.25 170,1029 185,1028.75 202.5,1027.5 240,1027 262,1026 266.2,1021 270.8,1013.1 275.4,1009.2 279.2,1014.6 282.3,1019.2 285.4,1013.1 289.2,1008 293.1,1009.2 296.2,1015.4 300,1024.6 305.4,1029.2 311.7,1032.3 311.7,1032.32" fill="#ffffff" stroke="#7ce044" stroke-width="1.3" stroke-linejoin="round"/>
<polygon points="94.76,1071.34 94.8,1017.5 98.75,1025 101.25,1031.25 103.75,1047.5 107,1063.75 125,1066.25 145,1068.75 160,1070 200,1070.5 236,1070.5 238,1045 240,1032.3 244.6,993.8 245.4,993.1 252.3,993.1 255.4,1000 260.8,1010.8 266.9,1024.6 271.5,1038.5 275.4,1055.4 279.2,1064.6 283.1,1070.8 288.5,1070.8 288.5,1071.34" fill="#ffffff" stroke="#cc2a44" stroke-width="1.3" stroke-linejoin="round"/>
<polygon points="57,1115.4 57,1063.5 60,1075 63.75,1095 70,1110 82.5,1112 100,1110.75 120,1108 143.75,1105 150,1095 157.5,1076 164,1063 170,1056 175,1051 180,1047.5 187.5,1046.25 195,1043.75 200,1040 203.75,1035 206.25,1020 210,997.5 213.75,980 217,967 222.5,971.25 226.25,975 230,989 233.8,1003 236.9,1015.4 239.2,1029.2 241.5,1044.6 243.8,1058.5 246.2,1070.8 248,1082 250,1094 250.3,1096 250.3,1115.4" fill="#ffffff" stroke="#141414" stroke-width="1.3" stroke-linejoin="round"/>
<line x1="371.1" y1="1115.4" x2="468.8" y2="889.3" stroke="#111" stroke-width="1.3"/>
<path d="M57,958.4 L57,1115.4 L371.1,1115.4" fill="none" stroke="#1a1a1a" stroke-width="1.7"/>
<line x1="57" y1="1115.4" x2="63" y2="1115.4" stroke="#1a1a1a" stroke-width="1.3"/>
<text x="50.5" y="1120.7" class="tl" text-anchor="end">0.0</text>
<line x1="57" y1="1089.23" x2="63" y2="1089.23" stroke="#1a1a1a" stroke-width="1.3"/>
<text x="50.5" y="1094.53" class="tl" text-anchor="end">0.2</text>
<line x1="57" y1="1063.07" x2="63" y2="1063.07" stroke="#1a1a1a" stroke-width="1.3"/>
<text x="50.5" y="1068.37" class="tl" text-anchor="end">0.4</text>
<line x1="57" y1="1036.9" x2="63" y2="1036.9" stroke="#1a1a1a" stroke-width="1.3"/>
<text x="50.5" y="1042.2" class="tl" text-anchor="end">0.6</text>
<line x1="57" y1="1010.73" x2="63" y2="1010.73" stroke="#1a1a1a" stroke-width="1.3"/>
<text x="50.5" y="1016.03" class="tl" text-anchor="end">0.8</text>
<line x1="57" y1="984.57" x2="63" y2="984.57" stroke="#1a1a1a" stroke-width="1.3"/>
<text x="50.5" y="989.87" class="tl" text-anchor="end">1.0</text>
<line x1="57" y1="958.4" x2="63" y2="958.4" stroke="#1a1a1a" stroke-width="1.3"/>
<text x="50.5" y="963.7" class="tl" text-anchor="end">1.2</text>
<line x1="57" y1="1102.32" x2="60.5" y2="1102.32" stroke="#1a1a1a" stroke-width="1.1"/>
<line x1="57" y1="1076.15" x2="60.5" y2="1076.15" stroke="#1a1a1a" stroke-width="1.1"/>
<line x1="57" y1="1049.98" x2="60.5" y2="1049.98" stroke="#1a1a1a" stroke-width="1.1"/>
<line x1="57" y1="1023.82" x2="60.5" y2="1023.82" stroke="#1a1a1a" stroke-width="1.1"/>
<line x1="57" y1="997.65" x2="60.5" y2="997.65" stroke="#1a1a1a" stroke-width="1.1"/>
<line x1="57" y1="971.48" x2="60.5" y2="971.48" stroke="#1a1a1a" stroke-width="1.1"/>
<text x="57" y="1135.2" class="tl" text-anchor="middle">0</text>
<line x1="135.53" y1="1115.4" x2="135.53" y2="1109.4" stroke="#1a1a1a" stroke-width="1.3"/>
<text x="135.53" y="1135.2" class="tl" text-anchor="middle">1</text>
<line x1="214.05" y1="1115.4" x2="214.05" y2="1109.4" stroke="#1a1a1a" stroke-width="1.3"/>
<text x="214.05" y="1135.2" class="tl" text-anchor="middle">2</text>
<line x1="292.58" y1="1115.4" x2="292.58" y2="1109.4" stroke="#1a1a1a" stroke-width="1.3"/>
<text x="292.58" y="1135.2" class="tl" text-anchor="middle">3</text>
<text x="371.1" y="1135.2" class="tl" text-anchor="middle">4</text>
<line x1="96.26" y1="1115.4" x2="96.26" y2="1111.9" stroke="#1a1a1a" stroke-width="1.1"/>
<line x1="174.79" y1="1115.4" x2="174.79" y2="1111.9" stroke="#1a1a1a" stroke-width="1.1"/>
<line x1="253.31" y1="1115.4" x2="253.31" y2="1111.9" stroke="#1a1a1a" stroke-width="1.1"/>
<line x1="331.84" y1="1115.4" x2="331.84" y2="1111.9" stroke="#1a1a1a" stroke-width="1.1"/>
<text x="373.8" y="1119.8" class="lb" style="font-size:16.3px" textLength="100.7" lengthAdjust="spacingAndGlyphs">Flat substrate</text>
<text x="390.8" y="1077.1" class="lb" style="font-size:16.3px" textLength="110.1" lengthAdjust="spacingAndGlyphs"><tspan font-style="italic">a</tspan> = <tspan font-style="italic">b</tspan> = <tspan font-style="italic">c</tspan> = 0.16</text>
<text x="410.8" y="1035.2" class="lb" style="font-size:16px" textLength="55.4" lengthAdjust="spacingAndGlyphs"><tspan font-style="italic">a</tspan> = 0.32</text>
<text x="426.2" y="1002.5" class="lb" style="font-size:16px" textLength="53.8" lengthAdjust="spacingAndGlyphs"><tspan font-style="italic">a</tspan> = 0.48</text>
<text x="438.5" y="971.7" class="lb" style="font-size:15.6px" textLength="51.7" lengthAdjust="spacingAndGlyphs"><tspan font-style="italic">b</tspan> = 0.32</text>
<text x="450" y="943.8" class="lb" style="font-size:15.3px" textLength="51.5" lengthAdjust="spacingAndGlyphs"><tspan font-style="italic">b</tspan> = 0.48</text>
<text x="462" y="918.5" class="lb" style="font-size:15px" textLength="49.6" lengthAdjust="spacingAndGlyphs"><tspan font-style="italic">c</tspan> = 0.32</text>
<text x="467.7" y="896.4" class="lb" style="font-size:14.6px" textLength="49.2" lengthAdjust="spacingAndGlyphs"><tspan font-style="italic">c</tspan> = 0.48</text>
<text x="71.1" y="838" class="pl">(c)</text>
<text x="128" y="1150" class="ti" style="font-size:17.5px" textLength="169" lengthAdjust="spacingAndGlyphs">Dimensionless time (<tspan font-style="italic">t</tspan>*)</text>
<text transform="translate(24.2,1126) rotate(-90)" x="0" y="0" class="ti" style="font-size:17.5px" textLength="161" lengthAdjust="spacingAndGlyphs">Adhesion energy (<tspan font-style="italic">E</tspan><tspan font-size="17" dy="-6.5">*</tspan><tspan font-size="13" dx="-8.5" dy="10">ad</tspan><tspan dy="-3.5">)</tspan></text>
</g>
</svg>
</body></html>
